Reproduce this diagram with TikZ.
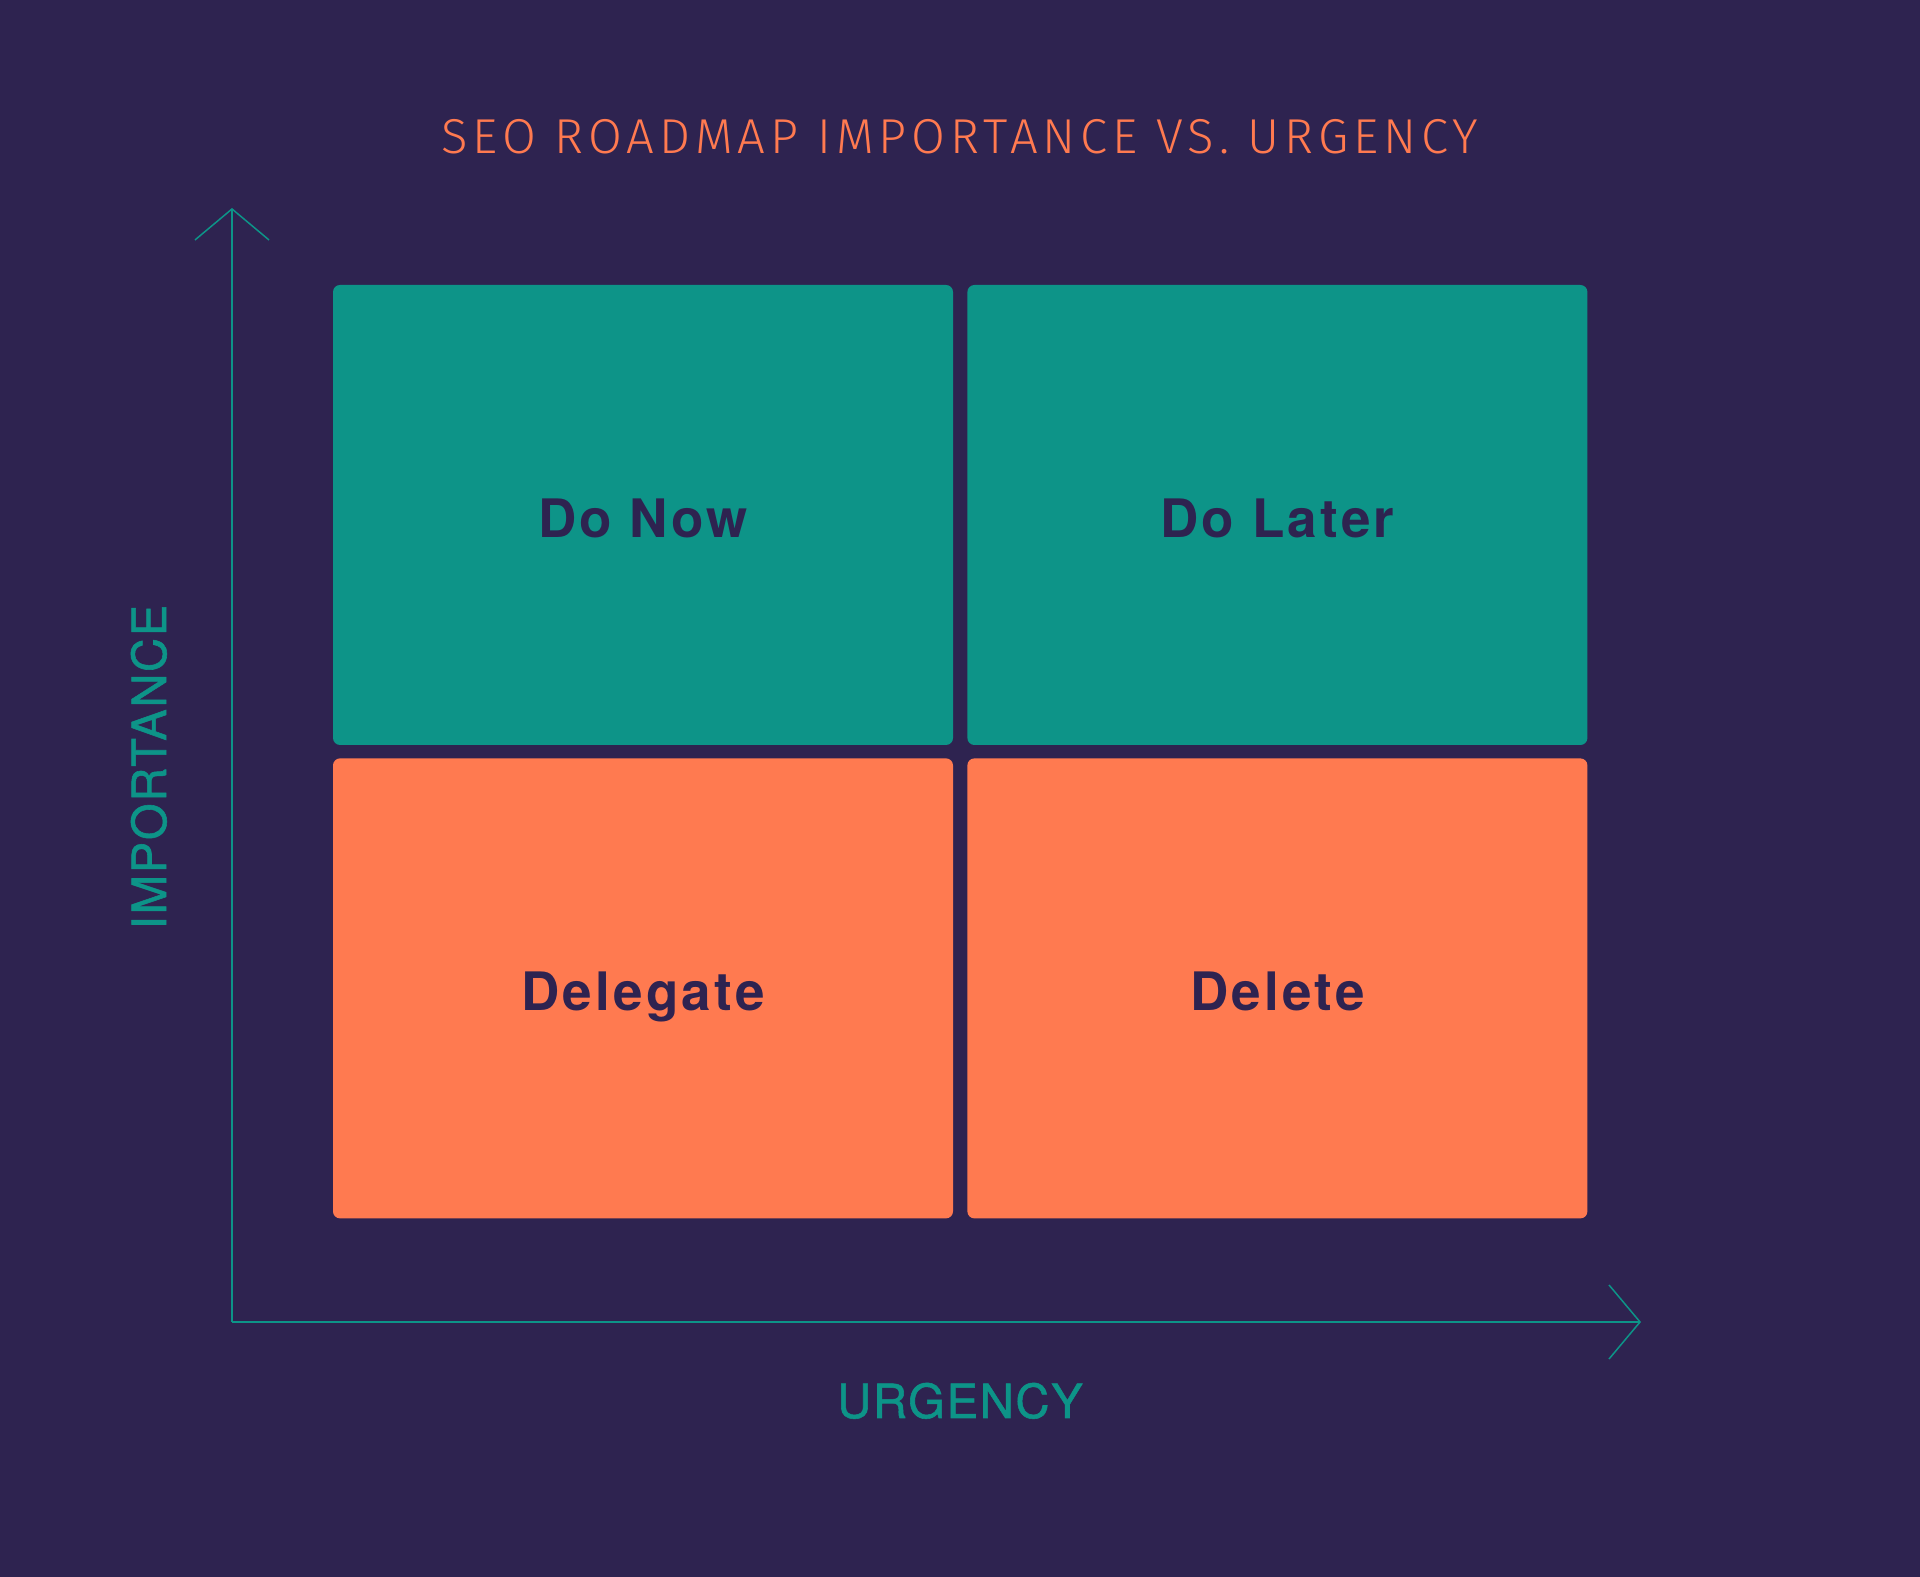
\documentclass[tikz,border=0pt]{standalone}
\usepackage{fontspec}
\setmainfont{TeX Gyre Heros}
\newfontfamily\titlefont{Fira Sans Light}[LetterSpace=10.2]
\newfontfamily\quadfont{TeX Gyre Heros}[LetterSpace=6]
\newfontfamily\axisfont{TeX Gyre Heros}[LetterSpace=4, FakeBold=1.2]
\usetikzlibrary{arrows.meta, positioning}
\definecolor{BgPurple}{HTML}{2E2350}
\definecolor{QuadTeal}{HTML}{0D9488}
\definecolor{QuadOrange}{HTML}{FF7A50}

\begin{document}
\begin{tikzpicture}[
    x=1pt, y=1pt,
    node distance=13pt and 14pt,
    quad/.style={rectangle, rounded corners=7pt, fill=#1, inner sep=0pt, minimum width=620pt, minimum height=460pt,
        text=BgPurple, font=\quadfont\bfseries\fontsize{53}{53}\selectfont, text height=45pt, text depth=0pt},
    axislabel/.style={text=QuadTeal, inner sep=0pt, font=\axisfont\fontsize{47}{47}\selectfont, text height=34pt, text depth=0pt},
    axis/.style={draw=QuadTeal, line width=1.5pt, -{Straight Barb[length=31pt, width=74pt]}}
]

% Background
\fill[BgPurple] (0,0) rectangle (1920,1577);
\useasboundingbox (0,0) rectangle (1920,1577);

% Title
\node[text=QuadOrange, inner sep=0pt, font=\titlefont\fontsize{49}{49}\selectfont, text height=34pt, text depth=0pt] (title) at (960,1440) {SEO ROADMAP IMPORTANCE VS. URGENCY};

% Quadrants
\node[quad=QuadTeal] (doNow) at (643,1062) {Do Now};
\node[quad=QuadTeal, right=of doNow] (doLater) {Do Later};
\node[quad=QuadOrange, below=of doNow] (delegate) {Delegate};
\node[quad=QuadOrange, below=of doLater] (delete) {Delete};

% Axes
\coordinate (origin) at (232,255);
\coordinate (impTip) at (232,1369);
\coordinate (urgTip) at (1641,255);
\draw[axis] (origin) -- (impTip);
\draw[axis] (origin) -- (urgTip);

% Axis labels
\node[axislabel, rotate=90] (importance) at (149,810) {IMPORTANCE};
\node[axislabel] (urgency) at (960,176) {URGENCY};
\end{tikzpicture}
\end{document}
